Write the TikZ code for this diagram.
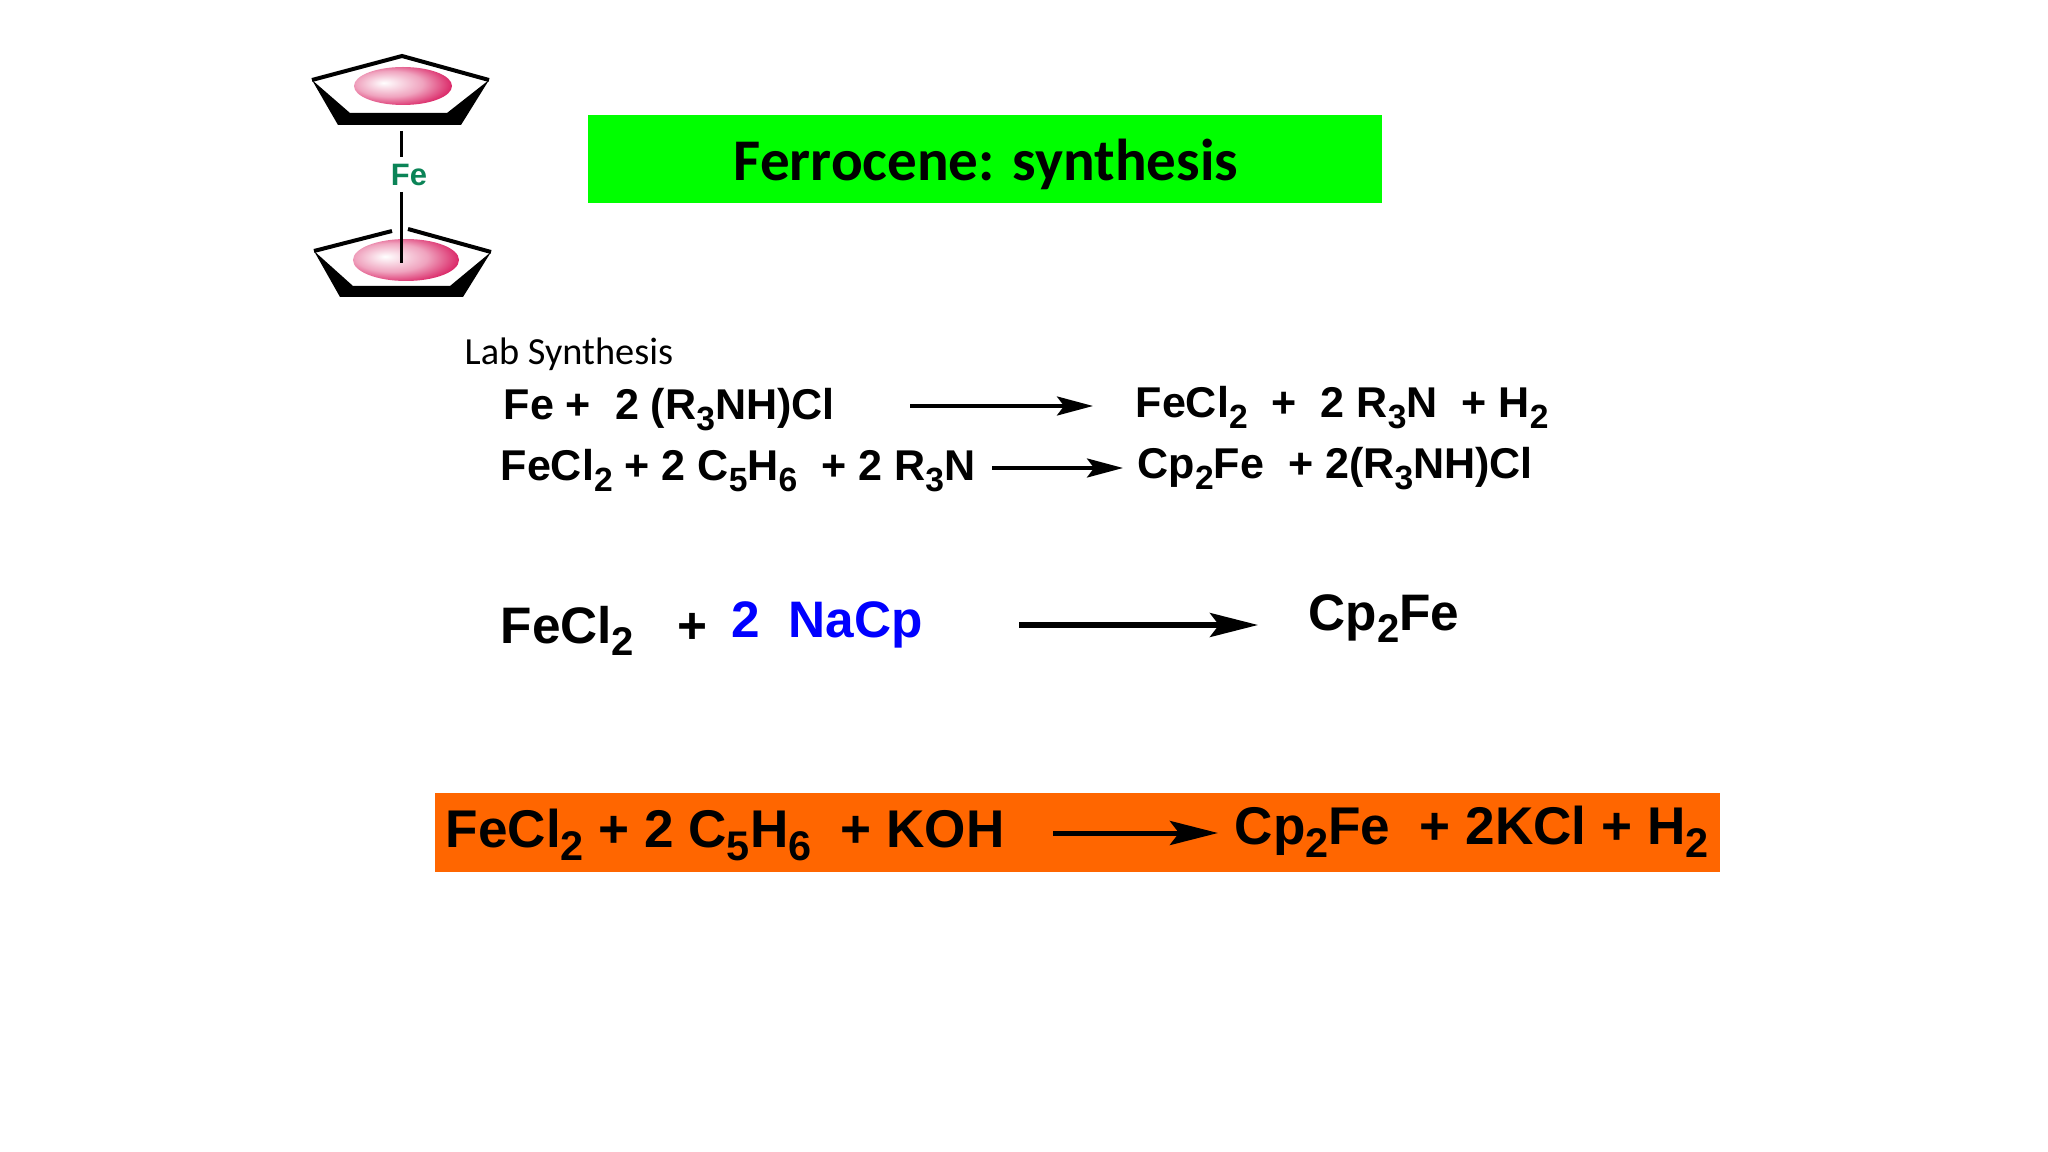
\documentclass[tikz,border=0pt]{standalone}
\usepackage{fontspec}
\setmainfont{Liberation Sans}
\newfontfamily\carlitofont{Carlito}
\usepackage{xcolor}
\usepackage{tikz}
\usetikzlibrary{arrows.meta}
\definecolor{titlegreen}{HTML}{00FF00}
\definecolor{bandorange}{HTML}{FF6600}
\definecolor{ironGreen}{HTML}{0B8457}
\definecolor{ringPink}{HTML}{D81A5E}
\pgfdeclareradialshading{ringshade}{\pgfpoint{-0.35cm}{0.15cm}}{
  color(0cm)=(white);
  color(0.6cm)=(white!60!ringPink);
  color(1.1cm)=(ringPink);
  color(2cm)=(ringPink)}
\newcommand*{\dn}[1]{\raisebox{-0.25em}{\scalebox{0.78}{#1}}}
\newcommand*{\sizeSmall}{\fontsize{12.25}{14}\selectfont}
\newcommand*{\sizeLarge}{\fontsize{14.6}{17}\selectfont}
\newcommand*{\sizeBand}{\fontsize{15.1}{17}\selectfont}
\tikzset{
  rxnsmall/.style={anchor=base west,inner sep=0pt,font=\bfseries\sizeSmall},
  rxnlarge/.style={anchor=base west,inner sep=0pt,font=\bfseries\sizeLarge},
  rxnband/.style={anchor=base west,inner sep=0pt,font=\bfseries\sizeBand},
  rxnarrow/.style={line width=0.035cm,-{Stealth[length=0.36cm,width=0.19cm,inset=0.07cm]}},
  bigarrow/.style={line width=0.05cm,-{Stealth[length=0.48cm,width=0.24cm,inset=0.09cm]}}
}

\begin{document}
\begin{tikzpicture}[x=0.01cm,y=-0.01cm]
    \useasboundingbox (0,0) rectangle (2048,1152);

    % top ring
    \fill [black] (312,80) -- (338,125) -- (461,125) -- (489,80) -- (447,113) -- (350,113) -- cycle;
    \draw [line width=0.04cm,line join=miter] (312,80) -- (402,56) -- (489,80);
    \shade [shading=ringshade] (403,86) ellipse (49 and 19);

    % bonds and iron
    \node (iron) [inner sep=0pt,text=ironGreen,font=\bfseries\fontsize{8.8}{10}\selectfont] at (409,175) {Fe};
    \draw [line width=0.03cm] (401,131) -- (401,157);

    % bottom ring
    \fill [black] (314,251) -- (340,297) -- (463,297) -- (491,252) -- (450,286) -- (353,286) -- cycle;
    \draw [line width=0.04cm] (314,251) -- (392,231);
    \draw [line width=0.04cm] (408,229) -- (491,252);
    \shade [shading=ringshade] (406,260) ellipse (53 and 21);
    \draw [line width=0.03cm] (401,192) -- (401,263);

    % title
    \fill [titlegreen] (588,115) rectangle (1382,203);
    \node (title) [anchor=base,inner sep=0pt,font=\carlitofont\bfseries\fontsize{16.8}{20}\selectfont] at (986,181) {Ferrocene: synthesis};

    % lab synthesis
    \node (lab) [anchor=base west,inner sep=0pt,font=\carlitofont\fontsize{10.9}{13}\selectfont] at (464,365) {Lab Synthesis};
    \node (leftA) [rxnsmall] at (503,420) {Fe +\ \ 2 (R\dn{3}NH)Cl};
    \node (rightA) [rxnsmall] at (1135,418) {FeCl\dn{2}\ \ +\ \ 2 R\dn{3}N\ \ + H\dn{2}};
    \node (leftB) [rxnsmall] at (500,481) {FeCl\dn{2} + 2 C\dn{5}H\dn{6}\ \ + 2 R\dn{3}N};
    \node (rightB) [rxnsmall] at (1137,479) {Cp\dn{2}Fe\ \ + 2(R\dn{3}NH)Cl};
    \coordinate (arrowAin) at (910,406);
    \coordinate (arrowAout) at (1093,406);
    \coordinate (arrowBin) at (992,468);
    \coordinate (arrowBout) at (1123,468);
    \draw [rxnarrow] (arrowAin) -- (arrowAout);
    \draw [rxnarrow] (arrowBin) -- (arrowBout);

    % sodium route
    \node (iron2) [rxnlarge] at (500,643) {FeCl\dn{2}};
    \node (plus) [rxnlarge] at (677,643) {+};
    \node (sodium) [rxnlarge,text=blue] at (731,637) {2\ \ NaCp};
    \node (product) [rxnlarge] at (1308,630) {Cp\dn{2}Fe};
    \coordinate (arrowCin) at (1019,625);
    \coordinate (arrowCout) at (1258,625);
    \draw [bigarrow] (arrowCin) -- (arrowCout);

    % base route
    \fill [bandorange] (435,793) rectangle (1720,872);
    \node (baseleft) [rxnband] at (445,847) {FeCl\dn{2} + 2 C\dn{5}H\dn{6}\ \ + KOH};
    \node (baseright) [rxnband] at (1234,844) {Cp\dn{2}Fe\ \ + 2KCl + H\dn{2}};
    \coordinate (arrowDin) at (1053,833);
    \coordinate (arrowDout) at (1218,833);
    \draw [bigarrow] (arrowDin) -- (arrowDout);
  \end{tikzpicture}
\end{document}
